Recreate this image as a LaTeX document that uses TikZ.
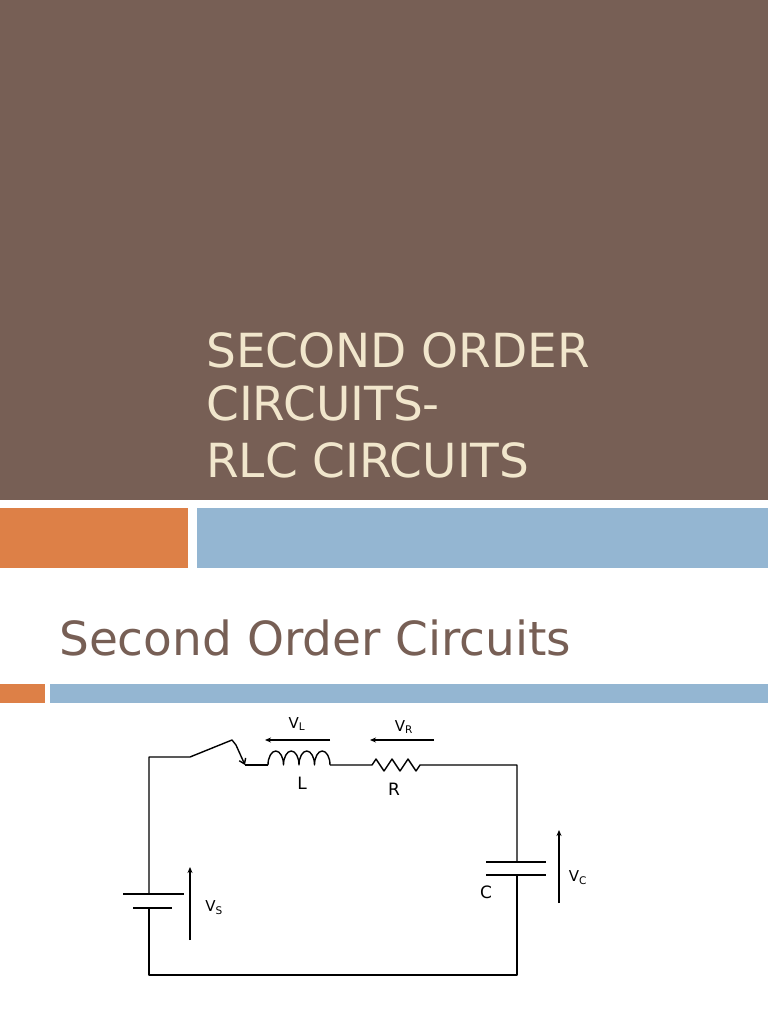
\documentclass[tikz,border=0pt]{standalone}
\usepackage{fontspec}
\setmainfont{DejaVu Sans}
\usetikzlibrary{arrows.meta}
\definecolor{brownbg}{HTML}{775F55}
\definecolor{cream}{HTML}{F1E6CC}
\definecolor{orangebar}{HTML}{DD8047}
\definecolor{bluebar}{HTML}{94B6D2}
\begin{document}
\begin{tikzpicture}[x=1pt,y=-1pt,
  wire/.style={line width=1.4pt,line join=round},
  vlab/.style={font=\fontsize{15}{17}\selectfont,inner sep=0pt},
  clab/.style={font=\fontsize{17}{19}\selectfont,inner sep=0pt},
  big/.style={anchor=base west,font=\fontsize{47}{52}\selectfont,inner sep=0pt},
  varrow/.style={line width=1.2pt,-{Stealth[length=6pt,width=5pt]}}]
\useasboundingbox (0,0) rectangle (768,1024);
\fill[white] (0,0) rectangle (768,1024);
\fill[brownbg] (0,0) rectangle (768,500);
\fill[orangebar] (0,508) rectangle (188,568);
\fill[bluebar] (197,508) rectangle (768,568);
\node[big,text=cream] (title) at (206,367) {SECOND ORDER};
\node[big,text=cream] (title2) at (206,420) {CIRCUITS-};
\node[big,text=cream] (title3) at (206,477) {RLC CIRCUITS};
\node[big,text=brownbg] (sub) at (59,655) {Second Order Circuits};
\fill[orangebar] (0,684) rectangle (45,703);
\fill[bluebar] (50,684) rectangle (768,703);
% circuit coordinates
\coordinate (tl) at (149,757);
\coordinate (sw1) at (190,757);
\coordinate (sw2) at (232,740);
\coordinate (sw3) at (245,765);
\coordinate (l1) at (268,765);
\coordinate (l2) at (330,765);
\coordinate (r1) at (372,765);
\coordinate (r2) at (420,765);
\coordinate (tr) at (517,765);
\coordinate (ct) at (517,862);
\coordinate (cb) at (517,875);
\coordinate (br) at (517,975);
\coordinate (bl) at (149,975);
\coordinate (bt) at (149,894);
\coordinate (bb) at (149,908);
\draw[wire] (bt) -- (tl) -- (sw1) -- (sw2) -- (236,745);
\draw[wire,-{Straight Barb[length=5pt,width=7pt]}] (236,745) -- (sw3);
\draw[wire] (sw3) -- (l1);
\draw[wire] (l1) arc[start angle=180,end angle=360,x radius=7.75,y radius=14]
  arc[start angle=180,end angle=360,x radius=7.75,y radius=14]
  arc[start angle=180,end angle=360,x radius=7.75,y radius=14]
  arc[start angle=180,end angle=360,x radius=7.75,y radius=14];
\draw[wire] (l2) -- (r1) -- (376,759) -- (384,771) -- (392,759) -- (400,771) -- (408,759) -- (416,771) -- (r2) -- (tr) -- (ct);
\draw[wire] (cb) -- (br) -- (bl) -- (bb);
\draw[wire] (486,862) -- (546,862);
\draw[wire] (486,875) -- (546,875);
\draw[wire] (123,894) -- (184,894);
\draw[wire] (133,908) -- (172,908);
\draw[varrow] (190,940) -- (190,867);
\draw[varrow] (559,903) -- (559,830);
\draw[varrow] (330,740) -- (265,740);
\draw[varrow] (434,740) -- (370,740);
\node[vlab] (vl) at (297,724) {V\textsubscript{L}};
\node[vlab] (vr) at (404,727) {V\textsubscript{R}};
\node[vlab] (vs) at (214,908) {V\textsubscript{S}};
\node[vlab] (vc) at (578,878) {V\textsubscript{C}};
\node[clab] (Ll) at (302,783) {L};
\node[clab] (Rl) at (394,789) {R};
\node[clab] (Cl) at (486,892) {C};
\end{tikzpicture}
\end{document}
